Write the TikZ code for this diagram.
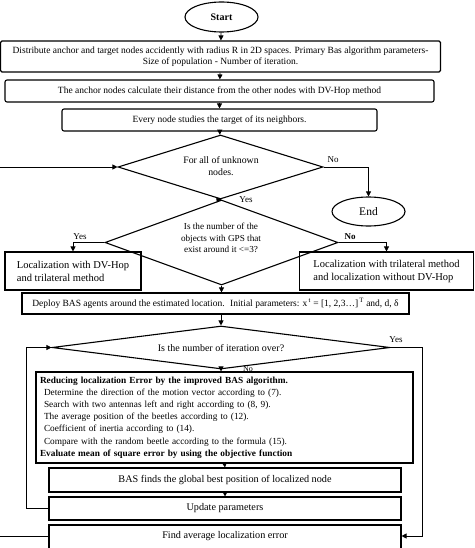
\documentclass[tikz,border=0pt]{standalone}
\usepackage{fontspec}
\setmainfont{Liberation Serif}
\usetikzlibrary{shapes.geometric,arrows.meta,calc}
\begin{document}
\begin{tikzpicture}[x=1pt,y=-1pt,
  box/.style={draw,line width=1.1pt,rectangle,inner sep=2pt,font=\fontsize{9.5}{11.5}\selectfont,align=center},
  rbox/.style={box,rounded corners=2pt},
  dia/.style={draw,line width=1.1pt,diamond,inner sep=0pt},
  oval/.style={draw,line width=1.1pt,ellipse,inner sep=0pt},
  lbl/.style={font=\fontsize{9}{11}\selectfont,inner sep=0pt},
  conn/.style={line width=0.8pt,-{Triangle[length=5pt,width=5pt]}},
  plain/.style={line width=0.8pt}]
\useasboundingbox (0,0) rectangle (474,548);
% terminals
\node[oval,minimum width=73pt,minimum height=30pt,font=\fontsize{10}{12}\selectfont\bfseries] (start) at (221.5,17) {Start};
\node[oval,minimum width=73pt,minimum height=29pt,font=\fontsize{11.5}{13}\selectfont] (end) at (368.5,211.5) {End};
% boxes
\node[box,rounded corners=1.5pt,minimum width=440pt,minimum height=31pt] (b1) at (220.5,56.5)
  {Distribute anchor and target nodes accidently with radius R in 2D spaces. Primary Bas algorithm parameters-\\Size of population - Number of iteration.};
\node[rbox,minimum width=429pt,minimum height=22pt] (b2) at (219.5,91)
  {The anchor nodes calculate their distance from the other nodes with DV-Hop method};
\node[rbox,minimum width=315pt,minimum height=22pt] (b3) at (219.5,120)
  {Every node studies the target of its neighbors.};
% decisions
\node[dia,minimum width=205pt,minimum height=64pt] (d1) at (220.5,167) {};
\node[lbl,align=center,font=\fontsize{9.8}{12}\selectfont] (t1) at (221,166.5) {For all of unknown\\nodes.};
\node[dia,minimum width=233pt,minimum height=85pt] (d2) at (221.5,242.5) {};
\node[lbl,align=center,font=\fontsize{9.2}{11.2}\selectfont] (t2) at (221,238) {Is the number of the\\objects with GPS that\\exist around it <=3?};
\node[box,minimum width=136pt,minimum height=38pt,align=left,font=\fontsize{10.5}{13}\selectfont] (bL) at (73,271)
  {Localization with DV-Hop\\and trilateral method};
\node[box,minimum width=174pt,minimum height=38pt,align=left,font=\fontsize{10.5}{13}\selectfont] (bR) at (386.5,271)
  {Localization with trilateral method\\and localization without DV-Hop};
\node[box,minimum width=387pt,minimum height=21pt] (b4) at (215.5,303.5)
  {Deploy BAS agents around the estimated location.~ Initial parameters: x\textsuperscript{\,t} = [1, 2,3\ldots]\textsuperscript{\,T} and, d, δ};
\node[dia,minimum width=338pt,minimum height=43pt] (d3) at (221,347.5) {};
\node[lbl,font=\fontsize{10}{12}\selectfont] (t3) at (221,348) {Is the number of iteration over?};
\node[box,minimum width=377pt,minimum height=91pt,text width=369pt,align=left,font=\fontsize{9.3}{12.2}\selectfont] (b5) at (224.5,417.5)
  {\textbf{Reducing localization Error by the improved BAS algorithm.}\\
  \hspace*{4pt}Determine the direction of the motion vector according to (7).\\
  \hspace*{4pt}Search with two antennas left and right according to (8, 9).\\
  \hspace*{4pt}The average position of the beetles according to (12).\\
  \hspace*{4pt}Coefficient of inertia according to (14).\\
  \hspace*{4pt}Compare with the random beetle according to the formula (15).\\
  \textbf{Evaluate mean of square error by using the objective function}};
\node[box,minimum width=352pt,minimum height=24pt,font=\fontsize{10.2}{12}\selectfont] (b6) at (225,480)
  {BAS finds the global best position of localized node};
\node[box,minimum width=352pt,minimum height=23pt,font=\fontsize{10.2}{12}\selectfont] (b7) at (225,508.5)
  {Update parameters};
\node[box,minimum width=352pt,minimum height=27pt] (b8) at (225,538.5)
  {};
\node[lbl,font=\fontsize{10.2}{12}\selectfont] (t8) at (225,536) {Find average localization error};
% free ends
\coordinate (inL) at (0,167);
\coordinate (outL) at (0,536);
% connectors
\draw[conn] (start) -- (b1);
\draw[conn] (b1) -- (b2);
\draw[conn] (b2) -- (b3);
\draw[conn] (b3) -- (d1);
\draw[conn] (inL) -- (d1.west);
\draw[conn] (d1.east) -| (end.north);
\node[lbl] (no1) at (333,160) {No};
\draw[conn] (d1.south) -- (d2.north);
\node[lbl] (yes1) at (246,200) {Yes};
\draw[conn] (d2.west) -| (bL.north);
\node[lbl] (yes2) at (80,237) {Yes};
\draw[conn] (d2.east) -| (bR.north);
\node[lbl,font=\fontsize{9}{11}\selectfont\bfseries] (no2) at (350,237) {No};
\draw[conn] (d2.south) -- (d2.south |- b4.north);
\draw[conn] (d3.north |- b4.south) -- (d3.north);
\draw[conn] (d3.south) -- (d3.south |- b5.north);
\node[lbl,font=\fontsize{8}{10}\selectfont] (no3) at (248,369) {No};
\draw[conn] (d3.east) -- ($(d3.east)+(32,0)$) |- (b8.east |- t8);
\node[lbl] (yes3) at (396,340) {Yes};
\draw[conn] (b7.west) -- ($(b7.west)+(-22,0)$) |- (d3.west);
\draw[conn] (b5.south) -- (b6.north);
\draw[conn] (b6.south) -- (b7.north);
\draw[plain] (outL) -- (outL -| b8.west);
\end{tikzpicture}
\end{document}
